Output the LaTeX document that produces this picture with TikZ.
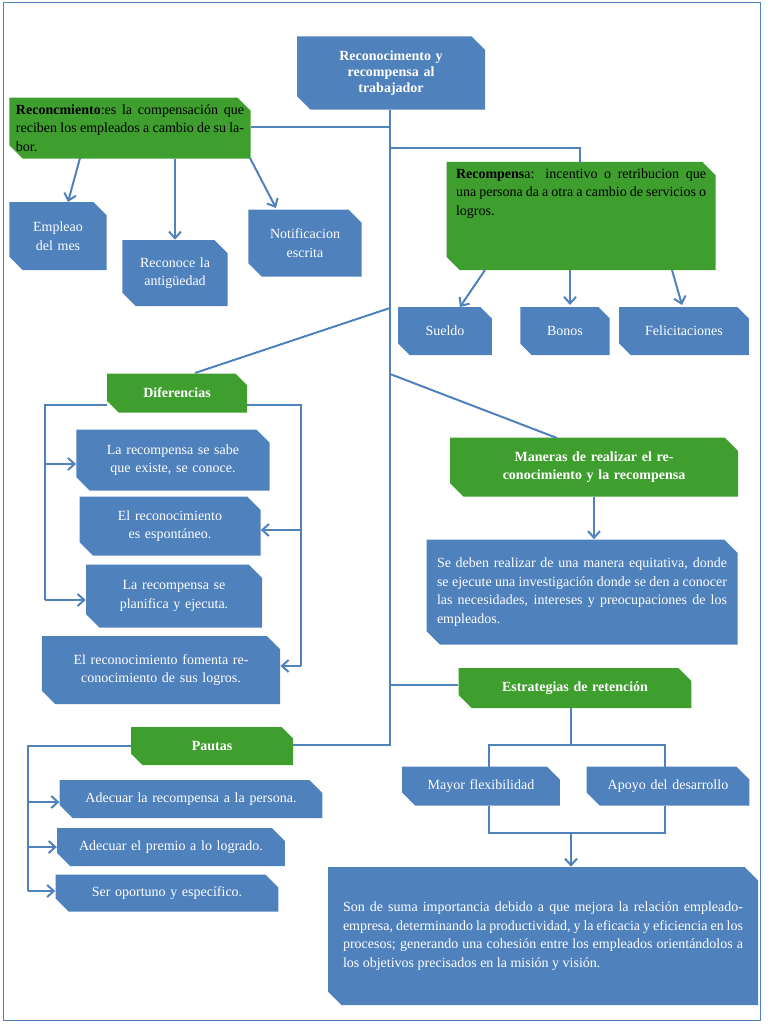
\documentclass[tikz,border=0pt]{standalone}
\usepackage{fontspec}
\setmainfont{Liberation Serif}
\usetikzlibrary{shapes.misc,arrows.meta}
\newdimen\pxu \pxu=0.75pt
\definecolor{boxblue}{RGB}{79,129,189}
\definecolor{boxgreen}{RGB}{62,158,46}
\tikzset{%
  box/.style      = {chamfered rectangle, chamfered rectangle corners={north east,south west},
                     chamfered rectangle xsep=5pt, chamfered rectangle ysep=5pt,
                     fill=boxblue, text=white, inner sep=0pt, align=center,
                     font=\fontsize{10.5}{14}\selectfont},%
  gbox/.style     = {box, fill=boxgreen, font=\bfseries\fontsize{10.5}{14}\selectfont},%
  bx/.style n args = {3}{minimum width=#1\pxu, minimum height=#2\pxu, text width=#3\pxu},%
  link/.style     = {draw=boxblue, line width=2\pxu},%
  arr/.style      = {link, -{Straight Barb[length=5pt,width=9pt]}}%
}
\begin{document}
\begin{tikzpicture}[x=0.75pt,y=-0.75pt]
	\useasboundingbox (0,0) rectangle (768,1024);
	\draw [boxblue, line width=1\pxu] (3,3) rectangle (760,1020);
	% top
	\node [box, font=\bfseries\fontsize{10.5}{12}\selectfont, bx={188}{73}{160}] (title) at (391,73)
		{Reconocimento y\\ recompensa al\\ trabajador};
	\node [box, fill=boxgreen, text=black, align=justify, bx={240}{61}{228}] (reco) at (130,128)
		{\textbf{Reconcmiento}:es la compensación que reciben los empleados a cambio de su labor.};
	\node [box, bx={92}{68}{84}] (mes) at (58,236) {Empleao del mes};
	\node [box, bx={103}{66}{92}] (anti) at (175,273) {Reconoce la antigüedad};
	\node [box, bx={109}{67}{100}] (noti) at (305,243) {Notificacion escrita};
	\node [box, fill=boxgreen, text=black, align=justify, bx={269}{107}{250}] (recom) at (581,216)
		{\textbf{Recompens}a: incentivo o retribucion que una persona da a otra a cambio de servicios o logros.\\[22pt]};
	\node [box, bx={90}{48}{84}] (sueldo) at (445,331) {Sueldo};
	\node [box, bx={87}{48}{80}] (bonos) at (565,331) {Bonos};
	\node [box, bx={127}{48}{120}] (feli) at (684,331) {Felicitaciones};
	% diferencias
	\node [gbox, bx={140}{39}{130}] (dif) at (177,393) {Diferencias};
	\node [box, bx={193}{61}{180}] (d1) at (173,460) {La recompensa se sabe que existe, se conoce.};
	\node [box, bx={181}{59}{160}] (d2) at (170,526) {El reconocimiento es espontáneo.};
	\node [box, bx={176}{63}{130}] (d3) at (174,596) {La recompensa se planifica y ejecuta.};
	\node [box, bx={237}{68}{225}] (d4) at (161,670) {El reconocimiento fomenta reconocimiento de sus logros.};
	% maneras
	\node [gbox, bx={288}{59}{260}] (man) at (594,467) {Maneras de realizar el reconocimiento y la recompensa};
	\node [box, align=justify, bx={311}{105}{290}] (deben) at (582,592)
		{Se deben realizar de una manera equitativa, donde se ejecute una investigación donde se den a conocer las necesidades, intereses y preocupaciones de los empleados.};
	% estrategias
	\node [gbox, bx={230}{40}{220}] (estr) at (575,688) {Estrategias de retención};
	\node [box, bx={151}{39}{145}] (flex) at (481,786) {Mayor flexibilidad};
	\node [box, bx={157}{39}{150}] (apoyo) at (668,786) {Apoyo del desarrollo};
	\node [box, align=justify, bx={430}{138}{400}] (suma) at (543,936)
		{Son de suma importancia debido a que mejora la relación empleado-empresa, determinando la productividad, y la eficacia y eficiencia en los procesos; generando una cohesión entre los empleados orientándolos a los objetivos precisados en la misión y visión.};
	% pautas
	\node [gbox, bx={162}{38}{150}] (pautas) at (212,746) {Pautas};
	\node [box, bx={257}{38}{250}] (p1) at (191,799) {Adecuar la recompensa a la persona.};
	\node [box, bx={224}{38}{215}] (p2) at (171,847) {Adecuar el premio a lo logrado.};
	\node [box, bx={217}{37}{210}] (p3) at (167,893) {Ser oportuno y específico.};
	% spine
	\coordinate (s0) at (390,110);
	\coordinate (s1) at (390,745);
	\draw [link] (s0) -- (s1) -- (pautas.east |- s1);
	\draw [link] (reco.east |- 0,127) -- (390,127);
	\draw [link] (390,148) -- (580,148) -- (580,163);
	\draw [arr] (80,158) -- (68,202);
	\draw [arr] (reco.south -| anti) -- (anti.north);
	\draw [arr] (250,158) -- (276,208);
	\draw [arr] (485,270) -- (460,307);
	\draw [arr] (570,270) -- (570,305);
	\draw [arr] (672,270) -- (682,305);
	\draw [link] (390,308) -- (195,373);
	\draw [link] (390,374) -- (557,438);
	\draw [arr] (man.south) -- (deben.north -| man.south);
	\draw [link] (390,685) -- (estr.west |- 0,685);
	% diferencias bracket
	\draw [link] (dif.west |- 0,405) -- (45,405) -- (45,600);
	\draw [arr] (45,464) -- (d1.west |- 0,464);
	\draw [arr] (45,600) -- (d3.west |- 0,600);
	\draw [link] (dif.east |- 0,405) -- (301,405) -- (301,666);
	\draw [arr] (301,530) -- (d2.east |- 0,530);
	\draw [arr] (301,666) -- (d4.east |- 0,666);
	% estrategias tree
	\draw [link] (571,708) -- (571,745);
	\draw [link] (489,767) -- (489,745) -- (665,745) -- (665,767);
	\draw [link] (489,806) -- (489,833) -- (665,833) -- (665,806);
	\draw [arr] (571,833) -- (suma.north -| 571,0);
	% pautas bracket
	\draw [link] (pautas.west) -- (28,746) -- (28,891);
	\draw [arr] (28,802) -- (p1.west |- 0,802);
	\draw [arr] (28,847) -- (p2.west |- 0,847);
	\draw [arr] (28,891) -- (p3.west |- 0,891);
\end{tikzpicture}
\end{document}
